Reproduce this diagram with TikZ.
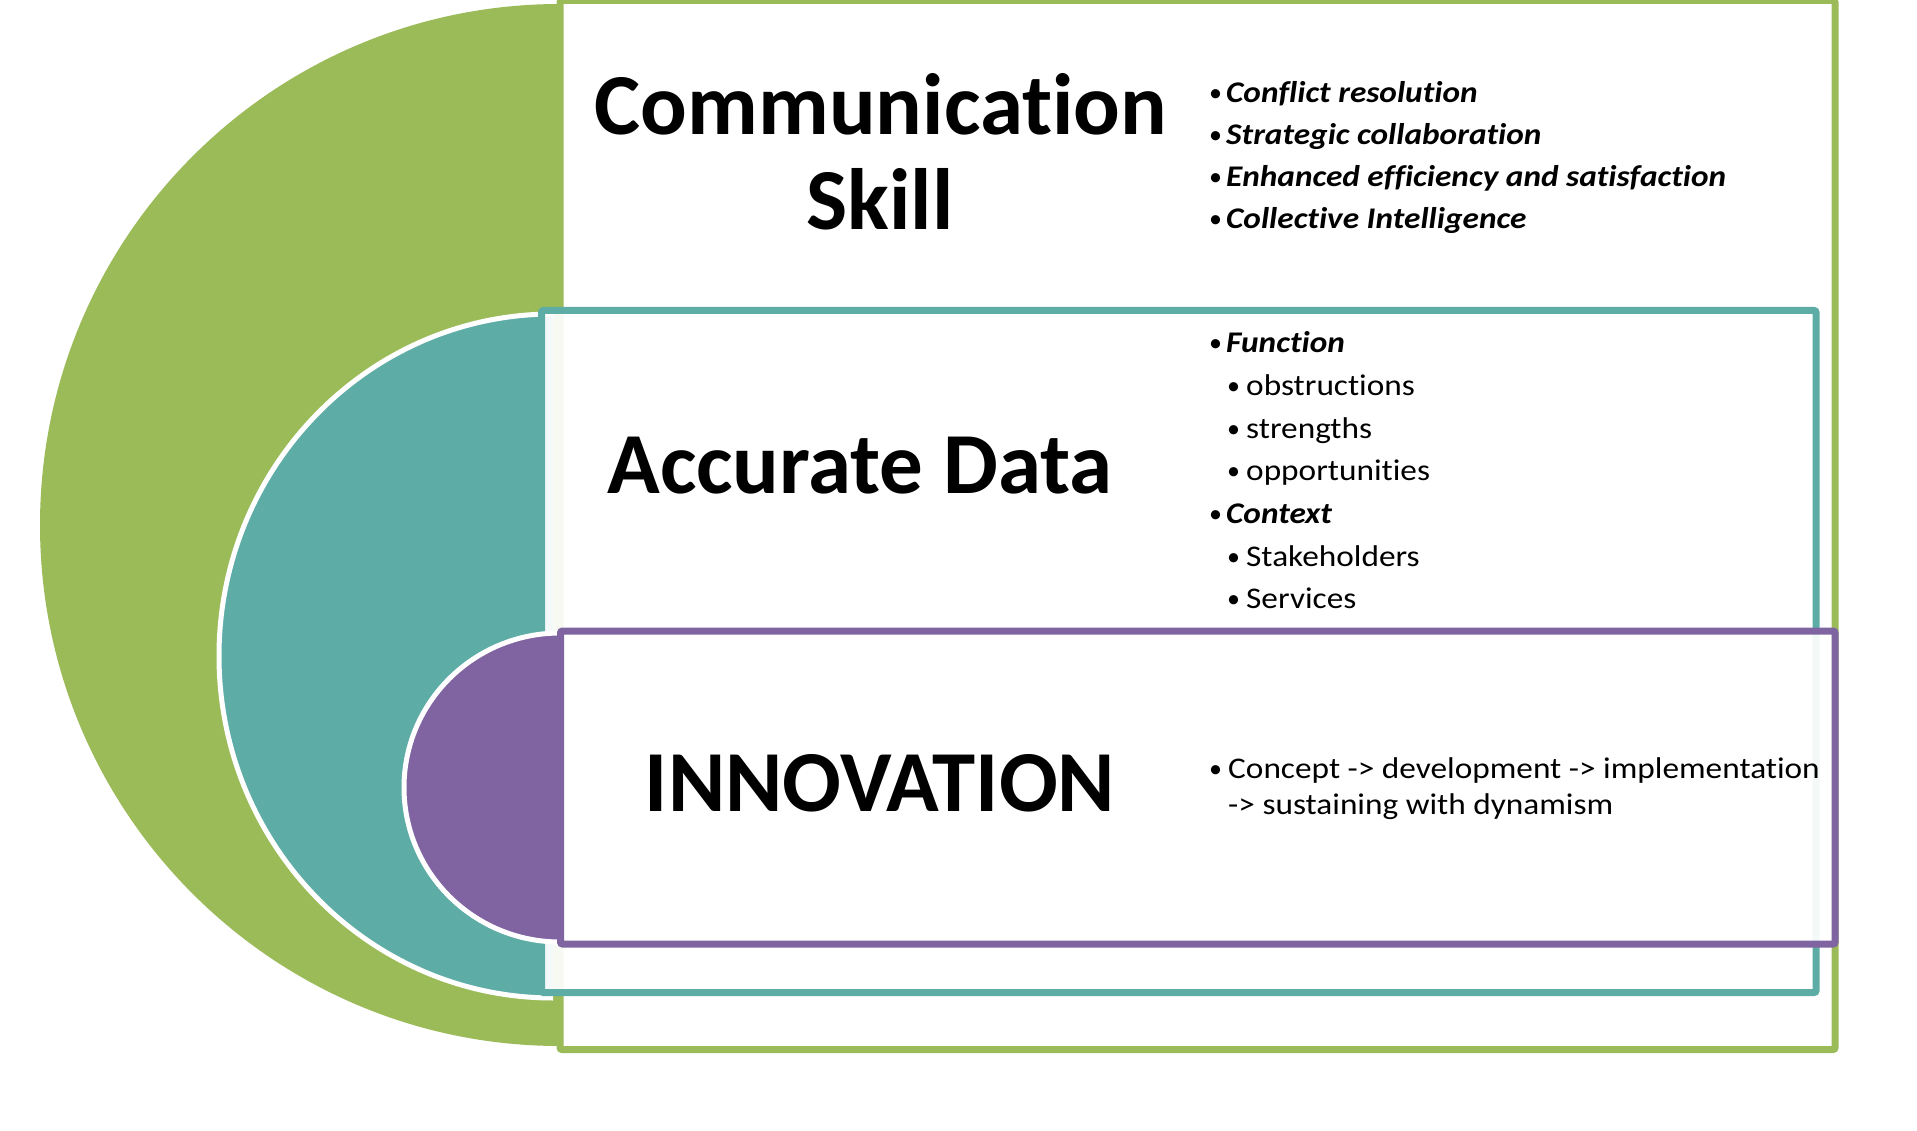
\documentclass[tikz,border=0pt]{standalone}
\usepackage{fontspec}
\setmainfont{Carlito}[Ligatures=NoCommon]
\newfontfamily\bulfont{Carlito}[Ligatures=NoCommon, FakeStretch=1.11]
\definecolor{cgreen}{HTML}{9BBB59}
\definecolor{cteal}{HTML}{5EACA6}
\definecolor{cpurple}{HTML}{8064A2}
\newcommand{\bul}[1]{\makebox[#1][l]{\normalfont\fontsize{26}{30}\selectfont\raisebox{1pt}{•}}}
\begin{document}
\begin{tikzpicture}[x=1pt,y=-1pt,
  frame/.style={line width=7pt, rounded corners=2pt, fill=white, fill opacity=0.93},
  head/.style={font=\fontsize{87}{100}\selectfont\bfseries, anchor=base, inner sep=0pt},
  item/.style={font=\fontsize{30}{36}\selectfont\bulfont, anchor=base west, inner sep=0pt},
  bitem/.style={item, font=\fontsize{30}{36}\selectfont\bulfont\bfseries\itshape},
]
\useasboundingbox (0,0) rectangle (1917,1131);
% green
\fill[cgreen] (560,4) arc[start angle=-90, end angle=-270, x radius=520, y radius=521] -- cycle;
\draw[frame, draw=cgreen] (560,0.5) rectangle (1835,1049.5);
% teal
\fill[cteal] (553,314) arc[start angle=-90, end angle=-270, x radius=334, y radius=342] -- cycle;
\draw[white, line width=5pt] (553,314) arc[start angle=-90, end angle=-270, x radius=334, y radius=342];
\draw[frame, draw=cteal] (541.5,310.5) rectangle (1816,992.5);
% purple
\fill[cpurple] (560,633) arc[start angle=-90, end angle=-270, x radius=156, y radius=154.5] -- cycle;
\draw[white, line width=5pt] (560,633) arc[start angle=-90, end angle=-270, x radius=156, y radius=154.5];
\draw[frame, draw=cpurple] (560.5,631) rectangle (1835,944);
% headings
\node[head] (comm1) at (881,134.5) {Communication};
\node[head] (comm2) at (880,230) {Skill};
\node[head] (data) at (860,493) {Accurate Data};
\node[head] (innov) at (880,811) {INNOVATION};
% bullets group 1
\node[bitem] (c1) at (1209,102.5) {\bul{17pt}Conflict resolution};
\node[bitem] (c2) at (1209,144.5) {\bul{17pt}Strategic collaboration};
\node[bitem] (c3) at (1209,186.5) {\bul{17pt}Enhanced efficiency and satisfaction};
\node[bitem] (c4) at (1209,228.5) {\bul{17pt}Collective Intelligence};
% bullets group 2
\node[bitem] (d1) at (1209,353) {\bul{17pt}Function};
\node[item] (d2) at (1227,395.6) {\bul{19pt}obstructions};
\node[item] (d3) at (1227,438.2) {\bul{19pt}strengths};
\node[item] (d4) at (1227,480.8) {\bul{19pt}opportunities};
\node[bitem] (d5) at (1209,523.4) {\bul{17pt}Context};
\node[item] (d6) at (1227,566) {\bul{19pt}Stakeholders};
\node[item] (d7) at (1227,608.6) {\bul{19pt}Services};
% bullets group 3
\node[item] (i1) at (1209,778) {\bul{19pt}Concept -> development -> implementation};
\node[item] (i2) at (1228,814.5) {-> sustaining with dynamism};
\end{tikzpicture}
\end{document}
